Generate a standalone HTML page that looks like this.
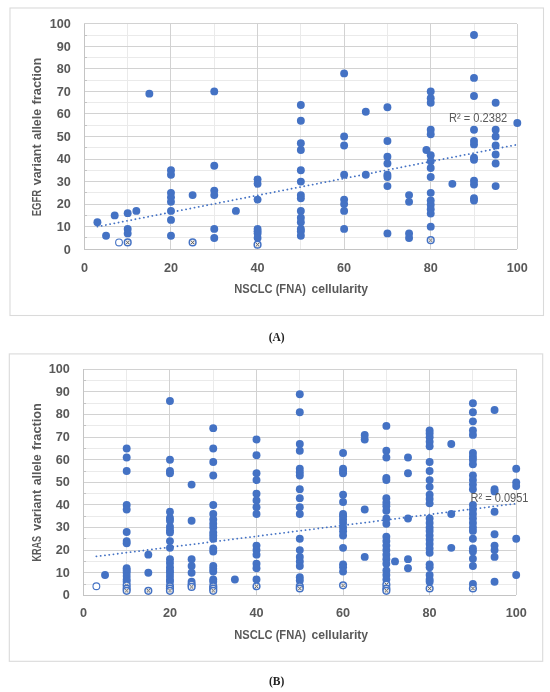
<!DOCTYPE html>
<html><head><meta charset="utf-8"><title>Figure</title>
<style>
html,body{margin:0;padding:0;background:#fff;}
body{width:550px;height:692px;overflow:hidden;}
svg{display:block;}
.tk{font-family:"Liberation Sans",sans-serif;font-weight:bold;font-size:12px;fill:#595959;}
.tt{font-family:"Liberation Sans",sans-serif;font-weight:bold;font-size:12.5px;fill:#595959;}
.r2{font-family:"Liberation Sans",sans-serif;font-size:12.3px;fill:#595959;}
.cap{font-family:"Liberation Serif",serif;font-weight:bold;font-size:11.5px;fill:#222;}
</style></head><body>
<svg width="550" height="692" viewBox="0 0 550 692">
<rect width="550" height="692" fill="#fff"/>
<rect x="10" y="8" width="533.5" height="307.5" fill="#fff" stroke="#dadada" stroke-width="1.1"/>
<line x1="84.4" x2="517.3" y1="237.93" y2="237.93" stroke="#eaeaea" stroke-width="1" shape-rendering="crispEdges"/>
<line x1="84.4" x2="517.3" y1="215.39" y2="215.39" stroke="#eaeaea" stroke-width="1" shape-rendering="crispEdges"/>
<line x1="84.4" x2="517.3" y1="192.85" y2="192.85" stroke="#eaeaea" stroke-width="1" shape-rendering="crispEdges"/>
<line x1="84.4" x2="517.3" y1="170.31" y2="170.31" stroke="#eaeaea" stroke-width="1" shape-rendering="crispEdges"/>
<line x1="84.4" x2="517.3" y1="147.77" y2="147.77" stroke="#eaeaea" stroke-width="1" shape-rendering="crispEdges"/>
<line x1="84.4" x2="517.3" y1="125.23" y2="125.23" stroke="#eaeaea" stroke-width="1" shape-rendering="crispEdges"/>
<line x1="84.4" x2="517.3" y1="102.69" y2="102.69" stroke="#eaeaea" stroke-width="1" shape-rendering="crispEdges"/>
<line x1="84.4" x2="517.3" y1="80.15" y2="80.15" stroke="#eaeaea" stroke-width="1" shape-rendering="crispEdges"/>
<line x1="84.4" x2="517.3" y1="57.61" y2="57.61" stroke="#eaeaea" stroke-width="1" shape-rendering="crispEdges"/>
<line x1="84.4" x2="517.3" y1="35.07" y2="35.07" stroke="#eaeaea" stroke-width="1" shape-rendering="crispEdges"/>
<line y1="23.8" y2="249.2" x1="127.69" x2="127.69" stroke="#eaeaea" stroke-width="1" shape-rendering="crispEdges"/>
<line y1="23.8" y2="249.2" x1="214.27" x2="214.27" stroke="#eaeaea" stroke-width="1" shape-rendering="crispEdges"/>
<line y1="23.8" y2="249.2" x1="300.85" x2="300.85" stroke="#eaeaea" stroke-width="1" shape-rendering="crispEdges"/>
<line y1="23.8" y2="249.2" x1="387.43" x2="387.43" stroke="#eaeaea" stroke-width="1" shape-rendering="crispEdges"/>
<line y1="23.8" y2="249.2" x1="474.01" x2="474.01" stroke="#eaeaea" stroke-width="1" shape-rendering="crispEdges"/>
<line x1="84.4" x2="517.3" y1="249.20" y2="249.20" stroke="#d2d2d2" stroke-width="1" shape-rendering="crispEdges"/>
<line x1="84.4" x2="517.3" y1="226.66" y2="226.66" stroke="#d2d2d2" stroke-width="1" shape-rendering="crispEdges"/>
<line x1="84.4" x2="517.3" y1="204.12" y2="204.12" stroke="#d2d2d2" stroke-width="1" shape-rendering="crispEdges"/>
<line x1="84.4" x2="517.3" y1="181.58" y2="181.58" stroke="#d2d2d2" stroke-width="1" shape-rendering="crispEdges"/>
<line x1="84.4" x2="517.3" y1="159.04" y2="159.04" stroke="#d2d2d2" stroke-width="1" shape-rendering="crispEdges"/>
<line x1="84.4" x2="517.3" y1="136.50" y2="136.50" stroke="#d2d2d2" stroke-width="1" shape-rendering="crispEdges"/>
<line x1="84.4" x2="517.3" y1="113.96" y2="113.96" stroke="#d2d2d2" stroke-width="1" shape-rendering="crispEdges"/>
<line x1="84.4" x2="517.3" y1="91.42" y2="91.42" stroke="#d2d2d2" stroke-width="1" shape-rendering="crispEdges"/>
<line x1="84.4" x2="517.3" y1="68.88" y2="68.88" stroke="#d2d2d2" stroke-width="1" shape-rendering="crispEdges"/>
<line x1="84.4" x2="517.3" y1="46.34" y2="46.34" stroke="#d2d2d2" stroke-width="1" shape-rendering="crispEdges"/>
<line x1="84.4" x2="517.3" y1="23.80" y2="23.80" stroke="#d2d2d2" stroke-width="1" shape-rendering="crispEdges"/>
<line y1="23.8" y2="249.2" x1="84.40" x2="84.40" stroke="#d2d2d2" stroke-width="1" shape-rendering="crispEdges"/>
<line y1="23.8" y2="249.2" x1="170.98" x2="170.98" stroke="#d2d2d2" stroke-width="1" shape-rendering="crispEdges"/>
<line y1="23.8" y2="249.2" x1="257.56" x2="257.56" stroke="#d2d2d2" stroke-width="1" shape-rendering="crispEdges"/>
<line y1="23.8" y2="249.2" x1="344.14" x2="344.14" stroke="#d2d2d2" stroke-width="1" shape-rendering="crispEdges"/>
<line y1="23.8" y2="249.2" x1="430.72" x2="430.72" stroke="#d2d2d2" stroke-width="1" shape-rendering="crispEdges"/>
<line y1="23.8" y2="249.2" x1="517.30" x2="517.30" stroke="#d2d2d2" stroke-width="1" shape-rendering="crispEdges"/>
<line x1="84.4" x2="84.4" y1="23.8" y2="249.2" stroke="#c4c4c4" stroke-width="1" shape-rendering="crispEdges"/>
<line x1="84.4" x2="517.3" y1="249.2" y2="249.2" stroke="#c4c4c4" stroke-width="1" shape-rendering="crispEdges"/>
<line x1="84.4" x2="87.4" y1="237.93" y2="237.93" stroke="#c4c4c4" stroke-width="1" shape-rendering="crispEdges"/>
<line x1="84.4" x2="87.4" y1="215.39" y2="215.39" stroke="#c4c4c4" stroke-width="1" shape-rendering="crispEdges"/>
<line x1="84.4" x2="87.4" y1="192.85" y2="192.85" stroke="#c4c4c4" stroke-width="1" shape-rendering="crispEdges"/>
<line x1="84.4" x2="87.4" y1="170.31" y2="170.31" stroke="#c4c4c4" stroke-width="1" shape-rendering="crispEdges"/>
<line x1="84.4" x2="87.4" y1="147.77" y2="147.77" stroke="#c4c4c4" stroke-width="1" shape-rendering="crispEdges"/>
<line x1="84.4" x2="87.4" y1="125.23" y2="125.23" stroke="#c4c4c4" stroke-width="1" shape-rendering="crispEdges"/>
<line x1="84.4" x2="87.4" y1="102.69" y2="102.69" stroke="#c4c4c4" stroke-width="1" shape-rendering="crispEdges"/>
<line x1="84.4" x2="87.4" y1="80.15" y2="80.15" stroke="#c4c4c4" stroke-width="1" shape-rendering="crispEdges"/>
<line x1="84.4" x2="87.4" y1="57.61" y2="57.61" stroke="#c4c4c4" stroke-width="1" shape-rendering="crispEdges"/>
<line x1="84.4" x2="87.4" y1="35.07" y2="35.07" stroke="#c4c4c4" stroke-width="1" shape-rendering="crispEdges"/>
<text x="70.80000000000001" y="253.50" text-anchor="end" class="tk" textLength="7.05" lengthAdjust="spacingAndGlyphs">0</text>
<text x="70.80000000000001" y="230.96" text-anchor="end" class="tk" textLength="14.10" lengthAdjust="spacingAndGlyphs">10</text>
<text x="70.80000000000001" y="208.42" text-anchor="end" class="tk" textLength="14.10" lengthAdjust="spacingAndGlyphs">20</text>
<text x="70.80000000000001" y="185.88" text-anchor="end" class="tk" textLength="14.10" lengthAdjust="spacingAndGlyphs">30</text>
<text x="70.80000000000001" y="163.34" text-anchor="end" class="tk" textLength="14.10" lengthAdjust="spacingAndGlyphs">40</text>
<text x="70.80000000000001" y="140.80" text-anchor="end" class="tk" textLength="14.10" lengthAdjust="spacingAndGlyphs">50</text>
<text x="70.80000000000001" y="118.26" text-anchor="end" class="tk" textLength="14.10" lengthAdjust="spacingAndGlyphs">60</text>
<text x="70.80000000000001" y="95.72" text-anchor="end" class="tk" textLength="14.10" lengthAdjust="spacingAndGlyphs">70</text>
<text x="70.80000000000001" y="73.18" text-anchor="end" class="tk" textLength="14.10" lengthAdjust="spacingAndGlyphs">80</text>
<text x="70.80000000000001" y="50.64" text-anchor="end" class="tk" textLength="14.10" lengthAdjust="spacingAndGlyphs">90</text>
<text x="70.80000000000001" y="28.10" text-anchor="end" class="tk" textLength="21.15" lengthAdjust="spacingAndGlyphs">100</text>
<text x="84.40" y="272" text-anchor="middle" class="tk" textLength="7.05" lengthAdjust="spacingAndGlyphs">0</text>
<text x="170.98" y="272" text-anchor="middle" class="tk" textLength="14.10" lengthAdjust="spacingAndGlyphs">20</text>
<text x="257.56" y="272" text-anchor="middle" class="tk" textLength="14.10" lengthAdjust="spacingAndGlyphs">40</text>
<text x="344.14" y="272" text-anchor="middle" class="tk" textLength="14.10" lengthAdjust="spacingAndGlyphs">60</text>
<text x="430.72" y="272" text-anchor="middle" class="tk" textLength="14.10" lengthAdjust="spacingAndGlyphs">80</text>
<text x="517.30" y="272" text-anchor="middle" class="tk" textLength="21.15" lengthAdjust="spacingAndGlyphs">100</text>
<text transform="translate(41.3,216.2) rotate(-90)" class="tt"><tspan x="0" textLength="26.3" lengthAdjust="spacingAndGlyphs">EGFR</tspan> <tspan x="30.9" textLength="40.9" lengthAdjust="spacingAndGlyphs">variant</tspan> <tspan x="76.4" textLength="30.8" lengthAdjust="spacingAndGlyphs">allele</tspan> <tspan x="111.8" textLength="46.8" lengthAdjust="spacingAndGlyphs">fraction</tspan></text>
<text y="293" class="tt"><tspan x="234.3" textLength="71.6" lengthAdjust="spacingAndGlyphs">NSCLC (FNA)</tspan> <tspan x="311.4" textLength="56.7" lengthAdjust="spacingAndGlyphs">cellularity</tspan></text>
<line x1="97.39" y1="226.66" x2="517.30" y2="144.61" stroke="#4472C4" stroke-width="1.8" stroke-dasharray="0.1 4.2" stroke-linecap="round"/>
<circle cx="97.39" cy="222.15" r="3.95" fill="#4472C4"/>
<circle cx="106.05" cy="235.68" r="3.95" fill="#4472C4"/>
<circle cx="114.70" cy="215.39" r="3.95" fill="#4472C4"/>
<circle cx="127.69" cy="213.14" r="3.95" fill="#4472C4"/>
<circle cx="127.69" cy="228.91" r="3.95" fill="#4472C4"/>
<circle cx="127.69" cy="233.42" r="3.95" fill="#4472C4"/>
<circle cx="136.35" cy="210.88" r="3.95" fill="#4472C4"/>
<circle cx="149.34" cy="93.67" r="3.95" fill="#4472C4"/>
<circle cx="170.98" cy="170.31" r="3.95" fill="#4472C4"/>
<circle cx="170.98" cy="174.82" r="3.95" fill="#4472C4"/>
<circle cx="170.98" cy="192.85" r="3.95" fill="#4472C4"/>
<circle cx="170.98" cy="197.36" r="3.95" fill="#4472C4"/>
<circle cx="170.98" cy="201.87" r="3.95" fill="#4472C4"/>
<circle cx="170.98" cy="210.88" r="3.95" fill="#4472C4"/>
<circle cx="170.98" cy="219.90" r="3.95" fill="#4472C4"/>
<circle cx="170.98" cy="235.68" r="3.95" fill="#4472C4"/>
<circle cx="192.62" cy="195.10" r="3.95" fill="#4472C4"/>
<circle cx="214.27" cy="91.42" r="3.95" fill="#4472C4"/>
<circle cx="214.27" cy="165.80" r="3.95" fill="#4472C4"/>
<circle cx="214.27" cy="190.60" r="3.95" fill="#4472C4"/>
<circle cx="214.27" cy="195.10" r="3.95" fill="#4472C4"/>
<circle cx="214.27" cy="228.91" r="3.95" fill="#4472C4"/>
<circle cx="214.27" cy="237.93" r="3.95" fill="#4472C4"/>
<circle cx="235.91" cy="210.88" r="3.95" fill="#4472C4"/>
<circle cx="257.56" cy="179.33" r="3.95" fill="#4472C4"/>
<circle cx="257.56" cy="183.83" r="3.95" fill="#4472C4"/>
<circle cx="257.56" cy="199.61" r="3.95" fill="#4472C4"/>
<circle cx="257.56" cy="228.91" r="3.95" fill="#4472C4"/>
<circle cx="257.56" cy="231.17" r="3.95" fill="#4472C4"/>
<circle cx="257.56" cy="233.42" r="3.95" fill="#4472C4"/>
<circle cx="257.56" cy="237.93" r="3.95" fill="#4472C4"/>
<circle cx="300.85" cy="104.94" r="3.95" fill="#4472C4"/>
<circle cx="300.85" cy="120.72" r="3.95" fill="#4472C4"/>
<circle cx="300.85" cy="143.26" r="3.95" fill="#4472C4"/>
<circle cx="300.85" cy="150.02" r="3.95" fill="#4472C4"/>
<circle cx="300.85" cy="170.31" r="3.95" fill="#4472C4"/>
<circle cx="300.85" cy="181.58" r="3.95" fill="#4472C4"/>
<circle cx="300.85" cy="195.10" r="3.95" fill="#4472C4"/>
<circle cx="300.85" cy="198.26" r="3.95" fill="#4472C4"/>
<circle cx="300.85" cy="210.88" r="3.95" fill="#4472C4"/>
<circle cx="300.85" cy="217.64" r="3.95" fill="#4472C4"/>
<circle cx="300.85" cy="222.15" r="3.95" fill="#4472C4"/>
<circle cx="300.85" cy="228.91" r="3.95" fill="#4472C4"/>
<circle cx="300.85" cy="231.17" r="3.95" fill="#4472C4"/>
<circle cx="300.85" cy="235.68" r="3.95" fill="#4472C4"/>
<circle cx="344.14" cy="73.39" r="3.95" fill="#4472C4"/>
<circle cx="344.14" cy="136.50" r="3.95" fill="#4472C4"/>
<circle cx="344.14" cy="145.52" r="3.95" fill="#4472C4"/>
<circle cx="344.14" cy="174.82" r="3.95" fill="#4472C4"/>
<circle cx="344.14" cy="199.61" r="3.95" fill="#4472C4"/>
<circle cx="344.14" cy="204.12" r="3.95" fill="#4472C4"/>
<circle cx="344.14" cy="210.88" r="3.95" fill="#4472C4"/>
<circle cx="344.14" cy="228.91" r="3.95" fill="#4472C4"/>
<circle cx="365.78" cy="111.71" r="3.95" fill="#4472C4"/>
<circle cx="365.78" cy="174.82" r="3.95" fill="#4472C4"/>
<circle cx="387.43" cy="107.20" r="3.95" fill="#4472C4"/>
<circle cx="387.43" cy="141.01" r="3.95" fill="#4472C4"/>
<circle cx="387.43" cy="156.79" r="3.95" fill="#4472C4"/>
<circle cx="387.43" cy="163.55" r="3.95" fill="#4472C4"/>
<circle cx="387.43" cy="174.82" r="3.95" fill="#4472C4"/>
<circle cx="387.43" cy="177.07" r="3.95" fill="#4472C4"/>
<circle cx="387.43" cy="186.09" r="3.95" fill="#4472C4"/>
<circle cx="387.43" cy="233.42" r="3.95" fill="#4472C4"/>
<circle cx="409.07" cy="195.10" r="3.95" fill="#4472C4"/>
<circle cx="409.07" cy="201.87" r="3.95" fill="#4472C4"/>
<circle cx="409.07" cy="233.42" r="3.95" fill="#4472C4"/>
<circle cx="409.07" cy="237.93" r="3.95" fill="#4472C4"/>
<circle cx="426.39" cy="150.02" r="3.95" fill="#4472C4"/>
<circle cx="430.72" cy="91.42" r="3.95" fill="#4472C4"/>
<circle cx="430.72" cy="98.18" r="3.95" fill="#4472C4"/>
<circle cx="430.72" cy="102.69" r="3.95" fill="#4472C4"/>
<circle cx="430.72" cy="129.74" r="3.95" fill="#4472C4"/>
<circle cx="430.72" cy="134.25" r="3.95" fill="#4472C4"/>
<circle cx="430.72" cy="155.21" r="3.95" fill="#4472C4"/>
<circle cx="430.72" cy="161.29" r="3.95" fill="#4472C4"/>
<circle cx="430.72" cy="168.06" r="3.95" fill="#4472C4"/>
<circle cx="430.72" cy="177.07" r="3.95" fill="#4472C4"/>
<circle cx="430.72" cy="192.85" r="3.95" fill="#4472C4"/>
<circle cx="430.72" cy="200.51" r="3.95" fill="#4472C4"/>
<circle cx="430.72" cy="204.80" r="3.95" fill="#4472C4"/>
<circle cx="430.72" cy="209.30" r="3.95" fill="#4472C4"/>
<circle cx="430.72" cy="213.59" r="3.95" fill="#4472C4"/>
<circle cx="430.72" cy="226.66" r="3.95" fill="#4472C4"/>
<circle cx="452.37" cy="183.83" r="3.95" fill="#4472C4"/>
<circle cx="474.01" cy="35.07" r="3.95" fill="#4472C4"/>
<circle cx="474.01" cy="77.90" r="3.95" fill="#4472C4"/>
<circle cx="474.01" cy="95.93" r="3.95" fill="#4472C4"/>
<circle cx="474.01" cy="129.74" r="3.95" fill="#4472C4"/>
<circle cx="474.01" cy="141.01" r="3.95" fill="#4472C4"/>
<circle cx="474.01" cy="144.39" r="3.95" fill="#4472C4"/>
<circle cx="474.01" cy="157.69" r="3.95" fill="#4472C4"/>
<circle cx="474.01" cy="159.72" r="3.95" fill="#4472C4"/>
<circle cx="474.01" cy="180.68" r="3.95" fill="#4472C4"/>
<circle cx="474.01" cy="184.51" r="3.95" fill="#4472C4"/>
<circle cx="474.01" cy="198.26" r="3.95" fill="#4472C4"/>
<circle cx="474.01" cy="200.51" r="3.95" fill="#4472C4"/>
<circle cx="495.65" cy="102.69" r="3.95" fill="#4472C4"/>
<circle cx="495.65" cy="129.74" r="3.95" fill="#4472C4"/>
<circle cx="495.65" cy="136.50" r="3.95" fill="#4472C4"/>
<circle cx="495.65" cy="145.52" r="3.95" fill="#4472C4"/>
<circle cx="495.65" cy="154.53" r="3.95" fill="#4472C4"/>
<circle cx="495.65" cy="163.55" r="3.95" fill="#4472C4"/>
<circle cx="495.65" cy="186.09" r="3.95" fill="#4472C4"/>
<circle cx="517.30" cy="122.98" r="3.95" fill="#4472C4"/>
<g transform="translate(127.69,242.44)"><circle r="3.35" fill="#f4f4f4" stroke="#4472C4" stroke-width="1.5"/><path d="M-1.5-1.1h1.1M0.5-1.1h1.1M-0.6 0h1.2M-1.5 1.1h1.1M0.5 1.1h1.1" stroke="#555" stroke-width="1"/></g>
<g transform="translate(192.62,242.44)"><circle r="3.35" fill="#f4f4f4" stroke="#4472C4" stroke-width="1.5"/><path d="M-1.5-1.1h1.1M0.5-1.1h1.1M-0.6 0h1.2M-1.5 1.1h1.1M0.5 1.1h1.1" stroke="#555" stroke-width="1"/></g>
<g transform="translate(257.56,244.69)"><circle r="3.35" fill="#f4f4f4" stroke="#4472C4" stroke-width="1.5"/><path d="M-1.5-1.1h1.1M0.5-1.1h1.1M-0.6 0h1.2M-1.5 1.1h1.1M0.5 1.1h1.1" stroke="#555" stroke-width="1"/></g>
<g transform="translate(430.72,240.18)"><circle r="3.35" fill="#f4f4f4" stroke="#4472C4" stroke-width="1.5"/><path d="M-1.5-1.1h1.1M0.5-1.1h1.1M-0.6 0h1.2M-1.5 1.1h1.1M0.5 1.1h1.1" stroke="#555" stroke-width="1"/></g>
<circle cx="119.03" cy="242.44" r="3.4" fill="#fff" stroke="#4472C4" stroke-width="1.1"/>
<text x="449" y="121.7" class="r2" textLength="58.3" lengthAdjust="spacingAndGlyphs">R² = 0.2382</text>
<text x="276.7" y="341.2" text-anchor="middle" class="cap">(A)</text>
<rect x="9.3" y="353.9" width="533.4000000000001" height="307.4" fill="#fff" stroke="#dadada" stroke-width="1.1"/>
<line x1="83.4" x2="516.2" y1="584.00" y2="584.00" stroke="#eaeaea" stroke-width="1" shape-rendering="crispEdges"/>
<line x1="83.4" x2="516.2" y1="561.41" y2="561.41" stroke="#eaeaea" stroke-width="1" shape-rendering="crispEdges"/>
<line x1="83.4" x2="516.2" y1="538.82" y2="538.82" stroke="#eaeaea" stroke-width="1" shape-rendering="crispEdges"/>
<line x1="83.4" x2="516.2" y1="516.23" y2="516.23" stroke="#eaeaea" stroke-width="1" shape-rendering="crispEdges"/>
<line x1="83.4" x2="516.2" y1="493.64" y2="493.64" stroke="#eaeaea" stroke-width="1" shape-rendering="crispEdges"/>
<line x1="83.4" x2="516.2" y1="471.05" y2="471.05" stroke="#eaeaea" stroke-width="1" shape-rendering="crispEdges"/>
<line x1="83.4" x2="516.2" y1="448.46" y2="448.46" stroke="#eaeaea" stroke-width="1" shape-rendering="crispEdges"/>
<line x1="83.4" x2="516.2" y1="425.88" y2="425.88" stroke="#eaeaea" stroke-width="1" shape-rendering="crispEdges"/>
<line x1="83.4" x2="516.2" y1="403.28" y2="403.28" stroke="#eaeaea" stroke-width="1" shape-rendering="crispEdges"/>
<line x1="83.4" x2="516.2" y1="380.69" y2="380.69" stroke="#eaeaea" stroke-width="1" shape-rendering="crispEdges"/>
<line y1="369.4" y2="595.3" x1="126.68" x2="126.68" stroke="#eaeaea" stroke-width="1" shape-rendering="crispEdges"/>
<line y1="369.4" y2="595.3" x1="213.24" x2="213.24" stroke="#eaeaea" stroke-width="1" shape-rendering="crispEdges"/>
<line y1="369.4" y2="595.3" x1="299.80" x2="299.80" stroke="#eaeaea" stroke-width="1" shape-rendering="crispEdges"/>
<line y1="369.4" y2="595.3" x1="386.36" x2="386.36" stroke="#eaeaea" stroke-width="1" shape-rendering="crispEdges"/>
<line y1="369.4" y2="595.3" x1="472.92" x2="472.92" stroke="#eaeaea" stroke-width="1" shape-rendering="crispEdges"/>
<line x1="83.4" x2="516.2" y1="595.30" y2="595.30" stroke="#d2d2d2" stroke-width="1" shape-rendering="crispEdges"/>
<line x1="83.4" x2="516.2" y1="572.71" y2="572.71" stroke="#d2d2d2" stroke-width="1" shape-rendering="crispEdges"/>
<line x1="83.4" x2="516.2" y1="550.12" y2="550.12" stroke="#d2d2d2" stroke-width="1" shape-rendering="crispEdges"/>
<line x1="83.4" x2="516.2" y1="527.53" y2="527.53" stroke="#d2d2d2" stroke-width="1" shape-rendering="crispEdges"/>
<line x1="83.4" x2="516.2" y1="504.94" y2="504.94" stroke="#d2d2d2" stroke-width="1" shape-rendering="crispEdges"/>
<line x1="83.4" x2="516.2" y1="482.35" y2="482.35" stroke="#d2d2d2" stroke-width="1" shape-rendering="crispEdges"/>
<line x1="83.4" x2="516.2" y1="459.76" y2="459.76" stroke="#d2d2d2" stroke-width="1" shape-rendering="crispEdges"/>
<line x1="83.4" x2="516.2" y1="437.17" y2="437.17" stroke="#d2d2d2" stroke-width="1" shape-rendering="crispEdges"/>
<line x1="83.4" x2="516.2" y1="414.58" y2="414.58" stroke="#d2d2d2" stroke-width="1" shape-rendering="crispEdges"/>
<line x1="83.4" x2="516.2" y1="391.99" y2="391.99" stroke="#d2d2d2" stroke-width="1" shape-rendering="crispEdges"/>
<line x1="83.4" x2="516.2" y1="369.40" y2="369.40" stroke="#d2d2d2" stroke-width="1" shape-rendering="crispEdges"/>
<line y1="369.4" y2="595.3" x1="83.40" x2="83.40" stroke="#d2d2d2" stroke-width="1" shape-rendering="crispEdges"/>
<line y1="369.4" y2="595.3" x1="169.96" x2="169.96" stroke="#d2d2d2" stroke-width="1" shape-rendering="crispEdges"/>
<line y1="369.4" y2="595.3" x1="256.52" x2="256.52" stroke="#d2d2d2" stroke-width="1" shape-rendering="crispEdges"/>
<line y1="369.4" y2="595.3" x1="343.08" x2="343.08" stroke="#d2d2d2" stroke-width="1" shape-rendering="crispEdges"/>
<line y1="369.4" y2="595.3" x1="429.64" x2="429.64" stroke="#d2d2d2" stroke-width="1" shape-rendering="crispEdges"/>
<line y1="369.4" y2="595.3" x1="516.20" x2="516.20" stroke="#d2d2d2" stroke-width="1" shape-rendering="crispEdges"/>
<line x1="83.4" x2="83.4" y1="369.4" y2="595.3" stroke="#c4c4c4" stroke-width="1" shape-rendering="crispEdges"/>
<line x1="83.4" x2="516.2" y1="595.3" y2="595.3" stroke="#c4c4c4" stroke-width="1" shape-rendering="crispEdges"/>
<line x1="83.4" x2="86.4" y1="584.00" y2="584.00" stroke="#c4c4c4" stroke-width="1" shape-rendering="crispEdges"/>
<line x1="83.4" x2="86.4" y1="561.41" y2="561.41" stroke="#c4c4c4" stroke-width="1" shape-rendering="crispEdges"/>
<line x1="83.4" x2="86.4" y1="538.82" y2="538.82" stroke="#c4c4c4" stroke-width="1" shape-rendering="crispEdges"/>
<line x1="83.4" x2="86.4" y1="516.23" y2="516.23" stroke="#c4c4c4" stroke-width="1" shape-rendering="crispEdges"/>
<line x1="83.4" x2="86.4" y1="493.64" y2="493.64" stroke="#c4c4c4" stroke-width="1" shape-rendering="crispEdges"/>
<line x1="83.4" x2="86.4" y1="471.05" y2="471.05" stroke="#c4c4c4" stroke-width="1" shape-rendering="crispEdges"/>
<line x1="83.4" x2="86.4" y1="448.46" y2="448.46" stroke="#c4c4c4" stroke-width="1" shape-rendering="crispEdges"/>
<line x1="83.4" x2="86.4" y1="425.88" y2="425.88" stroke="#c4c4c4" stroke-width="1" shape-rendering="crispEdges"/>
<line x1="83.4" x2="86.4" y1="403.28" y2="403.28" stroke="#c4c4c4" stroke-width="1" shape-rendering="crispEdges"/>
<line x1="83.4" x2="86.4" y1="380.69" y2="380.69" stroke="#c4c4c4" stroke-width="1" shape-rendering="crispEdges"/>
<text x="69.80000000000001" y="599.10" text-anchor="end" class="tk" textLength="7.05" lengthAdjust="spacingAndGlyphs">0</text>
<text x="69.80000000000001" y="576.51" text-anchor="end" class="tk" textLength="14.10" lengthAdjust="spacingAndGlyphs">10</text>
<text x="69.80000000000001" y="553.92" text-anchor="end" class="tk" textLength="14.10" lengthAdjust="spacingAndGlyphs">20</text>
<text x="69.80000000000001" y="531.33" text-anchor="end" class="tk" textLength="14.10" lengthAdjust="spacingAndGlyphs">30</text>
<text x="69.80000000000001" y="508.74" text-anchor="end" class="tk" textLength="14.10" lengthAdjust="spacingAndGlyphs">40</text>
<text x="69.80000000000001" y="486.15" text-anchor="end" class="tk" textLength="14.10" lengthAdjust="spacingAndGlyphs">50</text>
<text x="69.80000000000001" y="463.56" text-anchor="end" class="tk" textLength="14.10" lengthAdjust="spacingAndGlyphs">60</text>
<text x="69.80000000000001" y="440.97" text-anchor="end" class="tk" textLength="14.10" lengthAdjust="spacingAndGlyphs">70</text>
<text x="69.80000000000001" y="418.38" text-anchor="end" class="tk" textLength="14.10" lengthAdjust="spacingAndGlyphs">80</text>
<text x="69.80000000000001" y="395.79" text-anchor="end" class="tk" textLength="14.10" lengthAdjust="spacingAndGlyphs">90</text>
<text x="69.80000000000001" y="373.20" text-anchor="end" class="tk" textLength="21.15" lengthAdjust="spacingAndGlyphs">100</text>
<text x="83.40" y="617" text-anchor="middle" class="tk" textLength="7.05" lengthAdjust="spacingAndGlyphs">0</text>
<text x="169.96" y="617" text-anchor="middle" class="tk" textLength="14.10" lengthAdjust="spacingAndGlyphs">20</text>
<text x="256.52" y="617" text-anchor="middle" class="tk" textLength="14.10" lengthAdjust="spacingAndGlyphs">40</text>
<text x="343.08" y="617" text-anchor="middle" class="tk" textLength="14.10" lengthAdjust="spacingAndGlyphs">60</text>
<text x="429.64" y="617" text-anchor="middle" class="tk" textLength="14.10" lengthAdjust="spacingAndGlyphs">80</text>
<text x="516.20" y="617" text-anchor="middle" class="tk" textLength="21.15" lengthAdjust="spacingAndGlyphs">100</text>
<text transform="translate(40.5,561.4) rotate(-90)" class="tt"><tspan x="0" textLength="25.5" lengthAdjust="spacingAndGlyphs">KRAS</tspan> <tspan x="30.6" textLength="41.0" lengthAdjust="spacingAndGlyphs">variant</tspan> <tspan x="76.1" textLength="30.9" lengthAdjust="spacingAndGlyphs">allele</tspan> <tspan x="111.5" textLength="46.8" lengthAdjust="spacingAndGlyphs">fraction</tspan></text>
<text y="638.6" class="tt"><tspan x="234.3" textLength="71.6" lengthAdjust="spacingAndGlyphs">NSCLC (FNA)</tspan> <tspan x="311.4" textLength="56.7" lengthAdjust="spacingAndGlyphs">cellularity</tspan></text>
<line x1="96.38" y1="556.45" x2="516.20" y2="503.58" stroke="#4472C4" stroke-width="1.8" stroke-dasharray="0.1 4.2" stroke-linecap="round"/>
<circle cx="105.04" cy="574.97" r="3.95" fill="#4472C4"/>
<circle cx="126.68" cy="448.46" r="3.95" fill="#4472C4"/>
<circle cx="126.68" cy="457.50" r="3.95" fill="#4472C4"/>
<circle cx="126.68" cy="471.05" r="3.95" fill="#4472C4"/>
<circle cx="126.68" cy="504.94" r="3.95" fill="#4472C4"/>
<circle cx="126.68" cy="509.46" r="3.95" fill="#4472C4"/>
<circle cx="126.68" cy="532.05" r="3.95" fill="#4472C4"/>
<circle cx="126.68" cy="541.08" r="3.95" fill="#4472C4"/>
<circle cx="126.68" cy="543.34" r="3.95" fill="#4472C4"/>
<circle cx="126.68" cy="568.19" r="3.95" fill="#4472C4"/>
<circle cx="126.68" cy="570.45" r="3.95" fill="#4472C4"/>
<circle cx="126.68" cy="572.71" r="3.95" fill="#4472C4"/>
<circle cx="126.68" cy="576.10" r="3.95" fill="#4472C4"/>
<circle cx="126.68" cy="579.49" r="3.95" fill="#4472C4"/>
<circle cx="126.68" cy="581.75" r="3.95" fill="#4472C4"/>
<circle cx="148.32" cy="554.64" r="3.95" fill="#4472C4"/>
<circle cx="148.32" cy="572.71" r="3.95" fill="#4472C4"/>
<circle cx="169.96" cy="401.03" r="3.95" fill="#4472C4"/>
<circle cx="169.96" cy="459.76" r="3.95" fill="#4472C4"/>
<circle cx="169.96" cy="471.05" r="3.95" fill="#4472C4"/>
<circle cx="169.96" cy="473.31" r="3.95" fill="#4472C4"/>
<circle cx="169.96" cy="511.72" r="3.95" fill="#4472C4"/>
<circle cx="169.96" cy="518.04" r="3.95" fill="#4472C4"/>
<circle cx="169.96" cy="520.75" r="3.95" fill="#4472C4"/>
<circle cx="169.96" cy="526.63" r="3.95" fill="#4472C4"/>
<circle cx="169.96" cy="530.24" r="3.95" fill="#4472C4"/>
<circle cx="169.96" cy="532.50" r="3.95" fill="#4472C4"/>
<circle cx="169.96" cy="541.08" r="3.95" fill="#4472C4"/>
<circle cx="169.96" cy="547.86" r="3.95" fill="#4472C4"/>
<circle cx="169.96" cy="559.16" r="3.95" fill="#4472C4"/>
<circle cx="169.96" cy="563.00" r="3.95" fill="#4472C4"/>
<circle cx="169.96" cy="567.29" r="3.95" fill="#4472C4"/>
<circle cx="169.96" cy="570.45" r="3.95" fill="#4472C4"/>
<circle cx="169.96" cy="572.71" r="3.95" fill="#4472C4"/>
<circle cx="169.96" cy="576.10" r="3.95" fill="#4472C4"/>
<circle cx="169.96" cy="579.49" r="3.95" fill="#4472C4"/>
<circle cx="169.96" cy="581.75" r="3.95" fill="#4472C4"/>
<circle cx="191.60" cy="484.61" r="3.95" fill="#4472C4"/>
<circle cx="191.60" cy="520.75" r="3.95" fill="#4472C4"/>
<circle cx="191.60" cy="559.16" r="3.95" fill="#4472C4"/>
<circle cx="191.60" cy="565.93" r="3.95" fill="#4472C4"/>
<circle cx="191.60" cy="572.71" r="3.95" fill="#4472C4"/>
<circle cx="191.60" cy="581.75" r="3.95" fill="#4472C4"/>
<circle cx="213.24" cy="428.13" r="3.95" fill="#4472C4"/>
<circle cx="213.24" cy="448.46" r="3.95" fill="#4472C4"/>
<circle cx="213.24" cy="462.02" r="3.95" fill="#4472C4"/>
<circle cx="213.24" cy="475.57" r="3.95" fill="#4472C4"/>
<circle cx="213.24" cy="504.94" r="3.95" fill="#4472C4"/>
<circle cx="213.24" cy="513.98" r="3.95" fill="#4472C4"/>
<circle cx="213.24" cy="519.40" r="3.95" fill="#4472C4"/>
<circle cx="213.24" cy="523.69" r="3.95" fill="#4472C4"/>
<circle cx="213.24" cy="527.53" r="3.95" fill="#4472C4"/>
<circle cx="213.24" cy="532.50" r="3.95" fill="#4472C4"/>
<circle cx="213.24" cy="535.44" r="3.95" fill="#4472C4"/>
<circle cx="213.24" cy="538.82" r="3.95" fill="#4472C4"/>
<circle cx="213.24" cy="548.54" r="3.95" fill="#4472C4"/>
<circle cx="213.24" cy="551.48" r="3.95" fill="#4472C4"/>
<circle cx="213.24" cy="565.93" r="3.95" fill="#4472C4"/>
<circle cx="213.24" cy="568.87" r="3.95" fill="#4472C4"/>
<circle cx="213.24" cy="571.58" r="3.95" fill="#4472C4"/>
<circle cx="213.24" cy="579.49" r="3.95" fill="#4472C4"/>
<circle cx="213.24" cy="581.75" r="3.95" fill="#4472C4"/>
<circle cx="234.88" cy="579.49" r="3.95" fill="#4472C4"/>
<circle cx="256.52" cy="439.43" r="3.95" fill="#4472C4"/>
<circle cx="256.52" cy="455.24" r="3.95" fill="#4472C4"/>
<circle cx="256.52" cy="473.31" r="3.95" fill="#4472C4"/>
<circle cx="256.52" cy="480.09" r="3.95" fill="#4472C4"/>
<circle cx="256.52" cy="493.64" r="3.95" fill="#4472C4"/>
<circle cx="256.52" cy="500.42" r="3.95" fill="#4472C4"/>
<circle cx="256.52" cy="507.20" r="3.95" fill="#4472C4"/>
<circle cx="256.52" cy="513.98" r="3.95" fill="#4472C4"/>
<circle cx="256.52" cy="545.60" r="3.95" fill="#4472C4"/>
<circle cx="256.52" cy="550.12" r="3.95" fill="#4472C4"/>
<circle cx="256.52" cy="554.64" r="3.95" fill="#4472C4"/>
<circle cx="256.52" cy="563.67" r="3.95" fill="#4472C4"/>
<circle cx="256.52" cy="568.19" r="3.95" fill="#4472C4"/>
<circle cx="256.52" cy="579.49" r="3.95" fill="#4472C4"/>
<circle cx="299.80" cy="394.25" r="3.95" fill="#4472C4"/>
<circle cx="299.80" cy="412.32" r="3.95" fill="#4472C4"/>
<circle cx="299.80" cy="443.95" r="3.95" fill="#4472C4"/>
<circle cx="299.80" cy="450.72" r="3.95" fill="#4472C4"/>
<circle cx="299.80" cy="468.80" r="3.95" fill="#4472C4"/>
<circle cx="299.80" cy="472.18" r="3.95" fill="#4472C4"/>
<circle cx="299.80" cy="475.57" r="3.95" fill="#4472C4"/>
<circle cx="299.80" cy="489.13" r="3.95" fill="#4472C4"/>
<circle cx="299.80" cy="498.16" r="3.95" fill="#4472C4"/>
<circle cx="299.80" cy="507.20" r="3.95" fill="#4472C4"/>
<circle cx="299.80" cy="513.98" r="3.95" fill="#4472C4"/>
<circle cx="299.80" cy="538.82" r="3.95" fill="#4472C4"/>
<circle cx="299.80" cy="550.12" r="3.95" fill="#4472C4"/>
<circle cx="299.80" cy="556.90" r="3.95" fill="#4472C4"/>
<circle cx="299.80" cy="561.41" r="3.95" fill="#4472C4"/>
<circle cx="299.80" cy="565.93" r="3.95" fill="#4472C4"/>
<circle cx="299.80" cy="577.23" r="3.95" fill="#4472C4"/>
<circle cx="299.80" cy="580.39" r="3.95" fill="#4472C4"/>
<circle cx="343.08" cy="452.98" r="3.95" fill="#4472C4"/>
<circle cx="343.08" cy="468.80" r="3.95" fill="#4472C4"/>
<circle cx="343.08" cy="471.05" r="3.95" fill="#4472C4"/>
<circle cx="343.08" cy="473.31" r="3.95" fill="#4472C4"/>
<circle cx="343.08" cy="494.77" r="3.95" fill="#4472C4"/>
<circle cx="343.08" cy="502.00" r="3.95" fill="#4472C4"/>
<circle cx="343.08" cy="513.98" r="3.95" fill="#4472C4"/>
<circle cx="343.08" cy="516.23" r="3.95" fill="#4472C4"/>
<circle cx="343.08" cy="519.40" r="3.95" fill="#4472C4"/>
<circle cx="343.08" cy="523.01" r="3.95" fill="#4472C4"/>
<circle cx="343.08" cy="527.53" r="3.95" fill="#4472C4"/>
<circle cx="343.08" cy="531.14" r="3.95" fill="#4472C4"/>
<circle cx="343.08" cy="535.44" r="3.95" fill="#4472C4"/>
<circle cx="343.08" cy="547.86" r="3.95" fill="#4472C4"/>
<circle cx="343.08" cy="564.35" r="3.95" fill="#4472C4"/>
<circle cx="343.08" cy="567.29" r="3.95" fill="#4472C4"/>
<circle cx="343.08" cy="571.58" r="3.95" fill="#4472C4"/>
<circle cx="364.72" cy="434.91" r="3.95" fill="#4472C4"/>
<circle cx="364.72" cy="439.43" r="3.95" fill="#4472C4"/>
<circle cx="364.72" cy="509.46" r="3.95" fill="#4472C4"/>
<circle cx="364.72" cy="556.90" r="3.95" fill="#4472C4"/>
<circle cx="386.36" cy="425.88" r="3.95" fill="#4472C4"/>
<circle cx="386.36" cy="450.72" r="3.95" fill="#4472C4"/>
<circle cx="386.36" cy="457.50" r="3.95" fill="#4472C4"/>
<circle cx="386.36" cy="477.83" r="3.95" fill="#4472C4"/>
<circle cx="386.36" cy="480.09" r="3.95" fill="#4472C4"/>
<circle cx="386.36" cy="498.16" r="3.95" fill="#4472C4"/>
<circle cx="386.36" cy="502.68" r="3.95" fill="#4472C4"/>
<circle cx="386.36" cy="506.30" r="3.95" fill="#4472C4"/>
<circle cx="386.36" cy="510.81" r="3.95" fill="#4472C4"/>
<circle cx="386.36" cy="518.49" r="3.95" fill="#4472C4"/>
<circle cx="386.36" cy="523.69" r="3.95" fill="#4472C4"/>
<circle cx="386.36" cy="536.79" r="3.95" fill="#4472C4"/>
<circle cx="386.36" cy="541.08" r="3.95" fill="#4472C4"/>
<circle cx="386.36" cy="545.60" r="3.95" fill="#4472C4"/>
<circle cx="386.36" cy="550.12" r="3.95" fill="#4472C4"/>
<circle cx="386.36" cy="554.64" r="3.95" fill="#4472C4"/>
<circle cx="386.36" cy="559.16" r="3.95" fill="#4472C4"/>
<circle cx="386.36" cy="563.67" r="3.95" fill="#4472C4"/>
<circle cx="386.36" cy="570.45" r="3.95" fill="#4472C4"/>
<circle cx="386.36" cy="574.97" r="3.95" fill="#4472C4"/>
<circle cx="386.36" cy="579.49" r="3.95" fill="#4472C4"/>
<circle cx="395.02" cy="561.41" r="3.95" fill="#4472C4"/>
<circle cx="408.00" cy="457.50" r="3.95" fill="#4472C4"/>
<circle cx="408.00" cy="473.31" r="3.95" fill="#4472C4"/>
<circle cx="408.00" cy="518.49" r="3.95" fill="#4472C4"/>
<circle cx="408.00" cy="559.16" r="3.95" fill="#4472C4"/>
<circle cx="408.00" cy="568.19" r="3.95" fill="#4472C4"/>
<circle cx="429.64" cy="430.39" r="3.95" fill="#4472C4"/>
<circle cx="429.64" cy="433.56" r="3.95" fill="#4472C4"/>
<circle cx="429.64" cy="437.17" r="3.95" fill="#4472C4"/>
<circle cx="429.64" cy="441.69" r="3.95" fill="#4472C4"/>
<circle cx="429.64" cy="446.21" r="3.95" fill="#4472C4"/>
<circle cx="429.64" cy="462.02" r="3.95" fill="#4472C4"/>
<circle cx="429.64" cy="471.05" r="3.95" fill="#4472C4"/>
<circle cx="429.64" cy="480.09" r="3.95" fill="#4472C4"/>
<circle cx="429.64" cy="486.87" r="3.95" fill="#4472C4"/>
<circle cx="429.64" cy="494.77" r="3.95" fill="#4472C4"/>
<circle cx="429.64" cy="499.07" r="3.95" fill="#4472C4"/>
<circle cx="429.64" cy="503.36" r="3.95" fill="#4472C4"/>
<circle cx="429.64" cy="518.49" r="3.95" fill="#4472C4"/>
<circle cx="429.64" cy="523.01" r="3.95" fill="#4472C4"/>
<circle cx="429.64" cy="527.53" r="3.95" fill="#4472C4"/>
<circle cx="429.64" cy="530.92" r="3.95" fill="#4472C4"/>
<circle cx="429.64" cy="535.44" r="3.95" fill="#4472C4"/>
<circle cx="429.64" cy="539.73" r="3.95" fill="#4472C4"/>
<circle cx="429.64" cy="544.02" r="3.95" fill="#4472C4"/>
<circle cx="429.64" cy="548.54" r="3.95" fill="#4472C4"/>
<circle cx="429.64" cy="552.83" r="3.95" fill="#4472C4"/>
<circle cx="429.64" cy="564.35" r="3.95" fill="#4472C4"/>
<circle cx="429.64" cy="567.29" r="3.95" fill="#4472C4"/>
<circle cx="429.64" cy="574.97" r="3.95" fill="#4472C4"/>
<circle cx="429.64" cy="579.49" r="3.95" fill="#4472C4"/>
<circle cx="429.64" cy="581.75" r="3.95" fill="#4472C4"/>
<circle cx="451.28" cy="443.95" r="3.95" fill="#4472C4"/>
<circle cx="451.28" cy="513.98" r="3.95" fill="#4472C4"/>
<circle cx="451.28" cy="547.86" r="3.95" fill="#4472C4"/>
<circle cx="472.92" cy="403.28" r="3.95" fill="#4472C4"/>
<circle cx="472.92" cy="412.32" r="3.95" fill="#4472C4"/>
<circle cx="472.92" cy="421.36" r="3.95" fill="#4472C4"/>
<circle cx="472.92" cy="430.39" r="3.95" fill="#4472C4"/>
<circle cx="472.92" cy="434.91" r="3.95" fill="#4472C4"/>
<circle cx="472.92" cy="452.98" r="3.95" fill="#4472C4"/>
<circle cx="472.92" cy="456.82" r="3.95" fill="#4472C4"/>
<circle cx="472.92" cy="459.76" r="3.95" fill="#4472C4"/>
<circle cx="472.92" cy="464.28" r="3.95" fill="#4472C4"/>
<circle cx="472.92" cy="475.57" r="3.95" fill="#4472C4"/>
<circle cx="472.92" cy="480.09" r="3.95" fill="#4472C4"/>
<circle cx="472.92" cy="484.61" r="3.95" fill="#4472C4"/>
<circle cx="472.92" cy="489.13" r="3.95" fill="#4472C4"/>
<circle cx="472.92" cy="504.94" r="3.95" fill="#4472C4"/>
<circle cx="472.92" cy="509.46" r="3.95" fill="#4472C4"/>
<circle cx="472.92" cy="513.98" r="3.95" fill="#4472C4"/>
<circle cx="472.92" cy="518.49" r="3.95" fill="#4472C4"/>
<circle cx="472.92" cy="523.01" r="3.95" fill="#4472C4"/>
<circle cx="472.92" cy="527.53" r="3.95" fill="#4472C4"/>
<circle cx="472.92" cy="530.92" r="3.95" fill="#4472C4"/>
<circle cx="472.92" cy="538.82" r="3.95" fill="#4472C4"/>
<circle cx="472.92" cy="548.54" r="3.95" fill="#4472C4"/>
<circle cx="472.92" cy="551.48" r="3.95" fill="#4472C4"/>
<circle cx="472.92" cy="558.70" r="3.95" fill="#4472C4"/>
<circle cx="472.92" cy="565.93" r="3.95" fill="#4472C4"/>
<circle cx="472.92" cy="584.00" r="3.95" fill="#4472C4"/>
<circle cx="494.56" cy="410.06" r="3.95" fill="#4472C4"/>
<circle cx="494.56" cy="489.13" r="3.95" fill="#4472C4"/>
<circle cx="494.56" cy="491.39" r="3.95" fill="#4472C4"/>
<circle cx="494.56" cy="511.72" r="3.95" fill="#4472C4"/>
<circle cx="494.56" cy="534.31" r="3.95" fill="#4472C4"/>
<circle cx="494.56" cy="545.60" r="3.95" fill="#4472C4"/>
<circle cx="494.56" cy="550.12" r="3.95" fill="#4472C4"/>
<circle cx="494.56" cy="556.90" r="3.95" fill="#4472C4"/>
<circle cx="494.56" cy="581.75" r="3.95" fill="#4472C4"/>
<circle cx="516.20" cy="468.80" r="3.95" fill="#4472C4"/>
<circle cx="516.20" cy="482.35" r="3.95" fill="#4472C4"/>
<circle cx="516.20" cy="485.96" r="3.95" fill="#4472C4"/>
<circle cx="516.20" cy="538.82" r="3.95" fill="#4472C4"/>
<circle cx="516.20" cy="574.97" r="3.95" fill="#4472C4"/>
<g transform="translate(126.68,585.36)"><circle r="3.35" fill="#f4f4f4" stroke="#4472C4" stroke-width="1.5"/><path d="M-1.5-1.1h1.1M0.5-1.1h1.1M-0.6 0h1.2M-1.5 1.1h1.1M0.5 1.1h1.1" stroke="#555" stroke-width="1"/></g>
<g transform="translate(126.68,588.52)"><circle r="3.35" fill="#f4f4f4" stroke="#4472C4" stroke-width="1.5"/><path d="M-1.5-1.1h1.1M0.5-1.1h1.1M-0.6 0h1.2M-1.5 1.1h1.1M0.5 1.1h1.1" stroke="#555" stroke-width="1"/></g>
<g transform="translate(126.68,590.78)"><circle r="3.35" fill="#f4f4f4" stroke="#4472C4" stroke-width="1.5"/><path d="M-1.5-1.1h1.1M0.5-1.1h1.1M-0.6 0h1.2M-1.5 1.1h1.1M0.5 1.1h1.1" stroke="#555" stroke-width="1"/></g>
<g transform="translate(148.32,590.78)"><circle r="3.35" fill="#f4f4f4" stroke="#4472C4" stroke-width="1.5"/><path d="M-1.5-1.1h1.1M0.5-1.1h1.1M-0.6 0h1.2M-1.5 1.1h1.1M0.5 1.1h1.1" stroke="#555" stroke-width="1"/></g>
<g transform="translate(169.96,586.26)"><circle r="3.35" fill="#f4f4f4" stroke="#4472C4" stroke-width="1.5"/><path d="M-1.5-1.1h1.1M0.5-1.1h1.1M-0.6 0h1.2M-1.5 1.1h1.1M0.5 1.1h1.1" stroke="#555" stroke-width="1"/></g>
<g transform="translate(169.96,588.52)"><circle r="3.35" fill="#f4f4f4" stroke="#4472C4" stroke-width="1.5"/><path d="M-1.5-1.1h1.1M0.5-1.1h1.1M-0.6 0h1.2M-1.5 1.1h1.1M0.5 1.1h1.1" stroke="#555" stroke-width="1"/></g>
<g transform="translate(169.96,590.78)"><circle r="3.35" fill="#f4f4f4" stroke="#4472C4" stroke-width="1.5"/><path d="M-1.5-1.1h1.1M0.5-1.1h1.1M-0.6 0h1.2M-1.5 1.1h1.1M0.5 1.1h1.1" stroke="#555" stroke-width="1"/></g>
<g transform="translate(191.60,584.68)"><circle r="3.35" fill="#f4f4f4" stroke="#4472C4" stroke-width="1.5"/><path d="M-1.5-1.1h1.1M0.5-1.1h1.1M-0.6 0h1.2M-1.5 1.1h1.1M0.5 1.1h1.1" stroke="#555" stroke-width="1"/></g>
<g transform="translate(191.60,586.94)"><circle r="3.35" fill="#f4f4f4" stroke="#4472C4" stroke-width="1.5"/><path d="M-1.5-1.1h1.1M0.5-1.1h1.1M-0.6 0h1.2M-1.5 1.1h1.1M0.5 1.1h1.1" stroke="#555" stroke-width="1"/></g>
<g transform="translate(213.24,586.26)"><circle r="3.35" fill="#f4f4f4" stroke="#4472C4" stroke-width="1.5"/><path d="M-1.5-1.1h1.1M0.5-1.1h1.1M-0.6 0h1.2M-1.5 1.1h1.1M0.5 1.1h1.1" stroke="#555" stroke-width="1"/></g>
<g transform="translate(213.24,588.52)"><circle r="3.35" fill="#f4f4f4" stroke="#4472C4" stroke-width="1.5"/><path d="M-1.5-1.1h1.1M0.5-1.1h1.1M-0.6 0h1.2M-1.5 1.1h1.1M0.5 1.1h1.1" stroke="#555" stroke-width="1"/></g>
<g transform="translate(213.24,590.78)"><circle r="3.35" fill="#f4f4f4" stroke="#4472C4" stroke-width="1.5"/><path d="M-1.5-1.1h1.1M0.5-1.1h1.1M-0.6 0h1.2M-1.5 1.1h1.1M0.5 1.1h1.1" stroke="#555" stroke-width="1"/></g>
<g transform="translate(256.52,586.26)"><circle r="3.35" fill="#f4f4f4" stroke="#4472C4" stroke-width="1.5"/><path d="M-1.5-1.1h1.1M0.5-1.1h1.1M-0.6 0h1.2M-1.5 1.1h1.1M0.5 1.1h1.1" stroke="#555" stroke-width="1"/></g>
<g transform="translate(299.80,586.26)"><circle r="3.35" fill="#f4f4f4" stroke="#4472C4" stroke-width="1.5"/><path d="M-1.5-1.1h1.1M0.5-1.1h1.1M-0.6 0h1.2M-1.5 1.1h1.1M0.5 1.1h1.1" stroke="#555" stroke-width="1"/></g>
<g transform="translate(299.80,588.52)"><circle r="3.35" fill="#f4f4f4" stroke="#4472C4" stroke-width="1.5"/><path d="M-1.5-1.1h1.1M0.5-1.1h1.1M-0.6 0h1.2M-1.5 1.1h1.1M0.5 1.1h1.1" stroke="#555" stroke-width="1"/></g>
<g transform="translate(343.08,585.36)"><circle r="3.35" fill="#f4f4f4" stroke="#4472C4" stroke-width="1.5"/><path d="M-1.5-1.1h1.1M0.5-1.1h1.1M-0.6 0h1.2M-1.5 1.1h1.1M0.5 1.1h1.1" stroke="#555" stroke-width="1"/></g>
<g transform="translate(386.36,584.68)"><circle r="3.35" fill="#f4f4f4" stroke="#4472C4" stroke-width="1.5"/><path d="M-1.5-1.1h1.1M0.5-1.1h1.1M-0.6 0h1.2M-1.5 1.1h1.1M0.5 1.1h1.1" stroke="#555" stroke-width="1"/></g>
<g transform="translate(386.36,588.52)"><circle r="3.35" fill="#f4f4f4" stroke="#4472C4" stroke-width="1.5"/><path d="M-1.5-1.1h1.1M0.5-1.1h1.1M-0.6 0h1.2M-1.5 1.1h1.1M0.5 1.1h1.1" stroke="#555" stroke-width="1"/></g>
<g transform="translate(386.36,590.78)"><circle r="3.35" fill="#f4f4f4" stroke="#4472C4" stroke-width="1.5"/><path d="M-1.5-1.1h1.1M0.5-1.1h1.1M-0.6 0h1.2M-1.5 1.1h1.1M0.5 1.1h1.1" stroke="#555" stroke-width="1"/></g>
<g transform="translate(429.64,588.52)"><circle r="3.35" fill="#f4f4f4" stroke="#4472C4" stroke-width="1.5"/><path d="M-1.5-1.1h1.1M0.5-1.1h1.1M-0.6 0h1.2M-1.5 1.1h1.1M0.5 1.1h1.1" stroke="#555" stroke-width="1"/></g>
<g transform="translate(472.92,588.52)"><circle r="3.35" fill="#f4f4f4" stroke="#4472C4" stroke-width="1.5"/><path d="M-1.5-1.1h1.1M0.5-1.1h1.1M-0.6 0h1.2M-1.5 1.1h1.1M0.5 1.1h1.1" stroke="#555" stroke-width="1"/></g>
<circle cx="96.38" cy="586.26" r="3.4" fill="#fff" stroke="#4472C4" stroke-width="1.1"/>
<text x="470.5" y="502.3" class="r2" textLength="58" lengthAdjust="spacingAndGlyphs">R² = 0.0951</text>
<text x="276.7" y="685.1" text-anchor="middle" class="cap">(B)</text>
</svg>
</body></html>
